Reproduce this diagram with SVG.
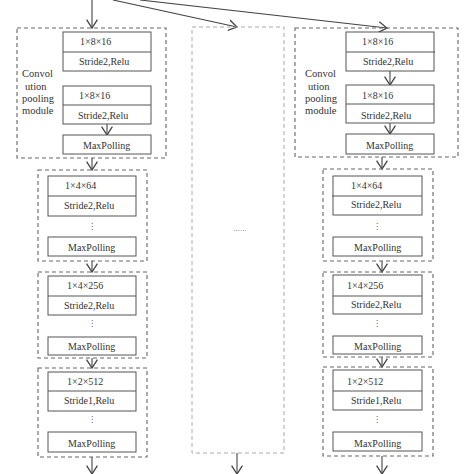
<svg xmlns="http://www.w3.org/2000/svg" width="474" height="474" viewBox="0 0 474 474">
<style>
.mod{fill:none;stroke:#666;stroke-width:1.1;stroke-dasharray:4 3}
.mid{fill:none;stroke:#aaa;stroke-width:1;stroke-dasharray:4 3}
.box{fill:#fff;stroke:#555;stroke-width:1}
.div{stroke:#555;stroke-width:1}
.t{font-family:"Liberation Serif","Times New Roman",serif;font-size:10px;fill:#333}
.lab{font-family:"Liberation Serif","Times New Roman",serif;font-size:10.5px;fill:#333}
.dots{font-family:"DejaVu Sans",sans-serif;font-size:8px;fill:#555;text-anchor:middle}
.con{fill:none;stroke:#444;stroke-width:1.1;marker-end:url(#ah)}
</style>
<defs>
<marker id="ah" markerUnits="userSpaceOnUse" markerWidth="10" markerHeight="12" viewBox="0 0 8 10" refX="7" refY="5" orient="auto">
<path d="M0,0.5 L7,5 L0,9.5" fill="none" stroke="#444" stroke-width="1.1"/>
</marker>
</defs>
<rect width="474" height="474" fill="#fff"/>

<g id="connectors">
<line class="con" x1="92" y1="0" x2="92" y2="28"/>
<line class="con" x1="113" y1="0" x2="237" y2="27"/>
<line class="con" x1="140" y1="0" x2="387" y2="28"/>
<line class="con" x1="107" y1="124" x2="107" y2="135"/>
<line class="con" x1="92" y1="158" x2="92" y2="170"/>
<line class="con" x1="92" y1="261" x2="92" y2="272"/>
<line class="con" x1="92" y1="358" x2="92" y2="368"/>
<line class="con" x1="92" y1="457" x2="92" y2="474"/>
<line class="con" x1="237" y1="453" x2="237" y2="474"/>
<line class="con" x1="390" y1="71" x2="390" y2="85"/>
<line class="con" x1="390" y1="123" x2="390" y2="134"/>
<line class="con" x1="382" y1="157" x2="382" y2="169"/>
<line class="con" x1="382" y1="261" x2="382" y2="272"/>
<line class="con" x1="382" y1="357" x2="382" y2="367"/>
<line class="con" x1="382" y1="456" x2="382" y2="474"/>
</g>

<g id="left-module1">
<rect class="mod" x="17" y="28" width="149" height="130"/>
<text class="lab" x="22" y="77">Convol</text>
<text class="lab" x="25" y="90">ution</text>
<text class="lab" x="22" y="102">pooling</text>
<text class="lab" x="22" y="114">module</text>
<rect class="box" x="63" y="32" width="88" height="39"/>
<line class="div" x1="63" y1="52" x2="151" y2="52"/>
<text class="t" x="80" y="45">1×8×16</text>
<text class="t" x="79" y="65">Stride2,Relu</text>
<rect class="box" x="63" y="86" width="88" height="38"/>
<line class="div" x1="63" y1="105" x2="151" y2="105"/>
<text class="t" x="79" y="99">1×8×16</text>
<text class="t" x="78" y="119">Stride2,Relu</text>
<rect class="box" x="63" y="135" width="88" height="19"/>
<text class="t" x="83" y="149">MaxPolling</text>
</g>

<g id="left-module2">
<rect class="mod" x="38" y="170" width="109" height="91"/>
<rect class="box" x="48" y="176" width="88" height="40"/>
<line class="div" x1="48" y1="196" x2="136" y2="196"/>
<text class="t" x="65" y="189">1×4×64</text>
<text class="t" x="64" y="209">Stride2,Relu</text>
<text class="dots" x="92" y="229">⋮</text>
<rect class="box" x="48" y="237" width="88" height="19"/>
<text class="t" x="68" y="251">MaxPolling</text>
</g>

<g id="left-module3">
<rect class="mod" x="38" y="272" width="109" height="86"/>
<rect class="box" x="48" y="276" width="88" height="39"/>
<line class="div" x1="48" y1="296" x2="136" y2="296"/>
<text class="t" x="67" y="289">1×4×256</text>
<text class="t" x="64" y="309">Stride2,Relu</text>
<text class="dots" x="92" y="326">⋮</text>
<rect class="box" x="48" y="337" width="88" height="18"/>
<text class="t" x="68" y="350">MaxPolling</text>
</g>

<g id="left-module4">
<rect class="mod" x="38" y="368" width="109" height="89"/>
<rect class="box" x="48" y="372" width="88" height="39"/>
<line class="div" x1="48" y1="391" x2="136" y2="391"/>
<text class="t" x="67" y="385">1×2×512</text>
<text class="t" x="64" y="404">Stride1,Relu</text>
<text class="dots" x="92" y="422">⋮</text>
<rect class="box" x="48" y="432" width="88" height="20"/>
<text class="t" x="68" y="447">MaxPolling</text>
</g>

<g id="middle">
<rect class="mid" x="192" y="27" width="92" height="426"/>
<text class="dots" x="240" y="231" style="font-size:7px;fill:#777">......</text>
</g>

<g id="right-module1">
<rect class="mod" x="295" y="28" width="163" height="129"/>
<text class="lab" x="305" y="77">Convol</text>
<text class="lab" x="308" y="90">ution</text>
<text class="lab" x="305" y="102">pooling</text>
<text class="lab" x="305" y="114">module</text>
<rect class="box" x="346" y="32" width="88" height="39"/>
<line class="div" x1="346" y1="52" x2="435" y2="52"/>
<text class="t" x="362" y="45">1×8×16</text>
<text class="t" x="363" y="65">Stride2,Relu</text>
<rect class="box" x="346" y="85" width="88" height="38"/>
<line class="div" x1="346" y1="104" x2="434" y2="104"/>
<text class="t" x="362" y="99">1×8×16</text>
<text class="t" x="361" y="119">Stride2,Relu</text>
<rect class="box" x="346" y="134" width="88" height="20"/>
<text class="t" x="366" y="149">MaxPolling</text>
</g>

<g id="right-module2">
<rect class="mod" x="323" y="169" width="110" height="92"/>
<rect class="box" x="333" y="176" width="89" height="39"/>
<line class="div" x1="332" y1="196" x2="422" y2="196"/>
<text class="t" x="351" y="189">1×4×64</text>
<text class="t" x="351" y="208">Stride2,Relu</text>
<text class="dots" x="377" y="229">⋮</text>
<rect class="box" x="333" y="237" width="89" height="19"/>
<text class="t" x="354" y="251">MaxPolling</text>
</g>

<g id="right-module3">
<rect class="mod" x="323" y="272" width="110" height="85"/>
<rect class="box" x="333" y="275" width="89" height="39"/>
<line class="div" x1="333" y1="296" x2="422" y2="296"/>
<text class="t" x="347" y="289">1×4×256</text>
<text class="t" x="351" y="308">Stride2,Relu</text>
<text class="dots" x="377" y="326">⋮</text>
<rect class="box" x="333" y="336" width="89" height="18"/>
<text class="t" x="354" y="350">MaxPolling</text>
</g>

<g id="right-module4">
<rect class="mod" x="323" y="367" width="110" height="89"/>
<rect class="box" x="333" y="370" width="89" height="40"/>
<line class="div" x1="333" y1="391" x2="422" y2="391"/>
<text class="t" x="347" y="385">1×2×512</text>
<text class="t" x="351" y="404">Stride1,Relu</text>
<text class="dots" x="377" y="422">⋮</text>
<rect class="box" x="333" y="432" width="89" height="19"/>
<text class="t" x="354" y="447">MaxPolling</text>
</g>
</svg>
